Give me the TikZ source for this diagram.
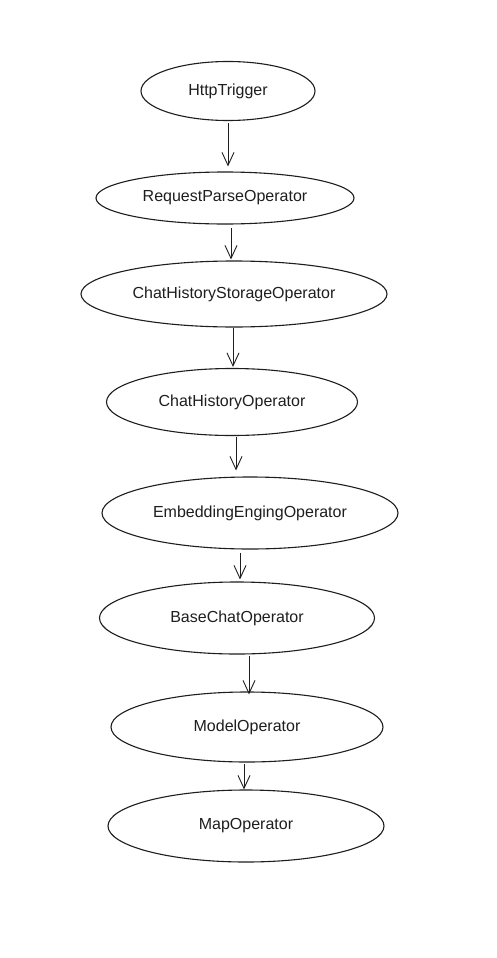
\documentclass[tikz,border=0pt]{standalone}
\usepackage{fontspec}
\setmainfont{Liberation Sans}
\usetikzlibrary{shapes.geometric,arrows.meta}
\definecolor{ink}{HTML}{1E1E1E}
\tikzset{
  op/.style={ellipse, draw=ink, line width=1.1pt, inner sep=0pt, font=\fontsize{16}{18}\selectfont, text=ink},
  arr/.style={draw=ink, line width=0.9pt, -{Straight Barb[length=13pt,width=12pt,line width=0.9pt]}}
}
\begin{document}
\begin{tikzpicture}[x=1pt,y=-1pt]
\useasboundingbox[fill=white] (0,0) rectangle (496,958);
\node[op, minimum width=174pt, minimum height=59pt] (n1) at (228,91) {HttpTrigger};
\node[op, minimum width=258pt, minimum height=52pt] (n2) at (225,198) {RequestParseOperator};
\node[op, minimum width=306pt, minimum height=66pt] (n3) at (234,294) {ChatHistoryStorageOperator};
\node[op, minimum width=251pt, minimum height=67pt] (n4) at (232,402) {ChatHistoryOperator};
\node[op, minimum width=296pt, minimum height=72pt] (n5) at (250,513) {EmbeddingEngingOperator};
\node[op, minimum width=275pt, minimum height=72pt] (n6) at (237,618) {BaseChatOperator};
\node[op, minimum width=272pt, minimum height=70pt] (n7) at (247,727) {ModelOperator};
\node[op, minimum width=276pt, minimum height=72pt] (n8) at (246,826) {MapOperator};
\draw[arr] ([yshift=-2pt]n1.south) -- ([xshift=3pt,yshift=5pt]n2.north);
\draw[arr] ([xshift=6pt,yshift=-3pt]n2.south) -- ([xshift=-3pt,yshift=1pt]n3.north);
\draw[arr] ([xshift=-1pt]n3.south) -- ([xshift=1pt,yshift=1pt]n4.north);
\draw[arr] ([xshift=4pt,yshift=-1pt]n4.south) -- ([xshift=-14pt,yshift=6pt]n5.north);
\draw[arr] ([xshift=-10pt,yshift=-3pt]n5.south) -- ([xshift=3pt,yshift=2pt]n6.north);
\draw[arr] ([xshift=12pt,yshift=-1pt]n6.south) -- ([xshift=2pt,yshift=-3pt]n7.north);
\draw[arr] ([xshift=-3pt,yshift=-1pt]n7.south) -- ([xshift=-2pt]n8.north);
\end{tikzpicture}
\end{document}
